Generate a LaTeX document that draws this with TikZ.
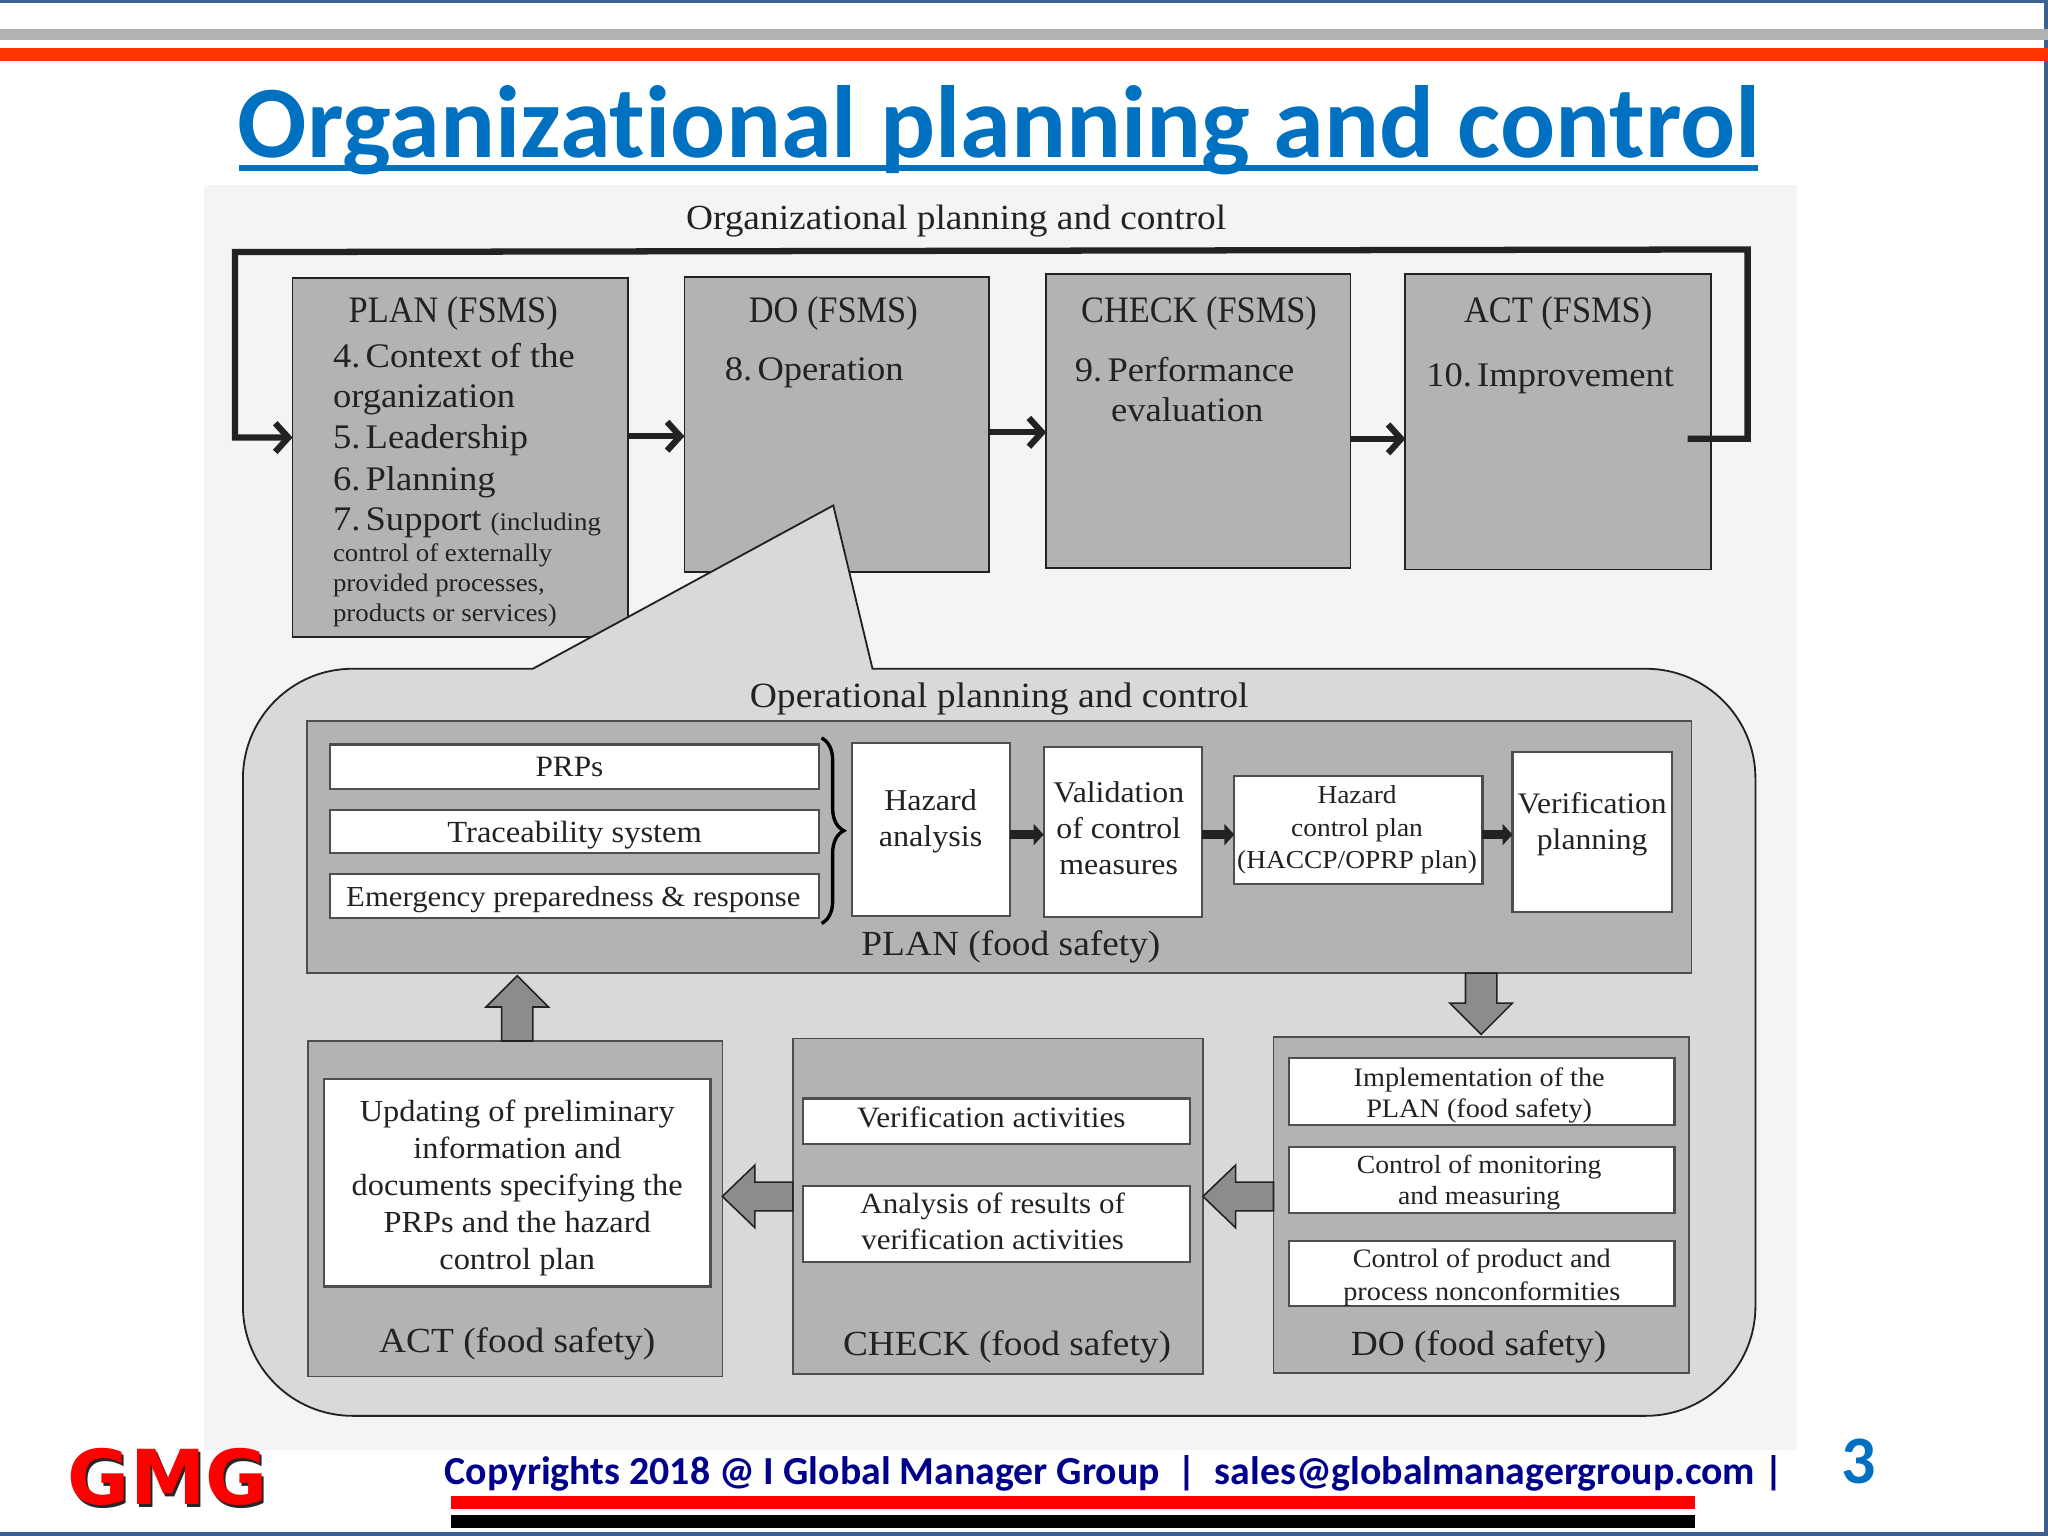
\documentclass[tikz,border=0pt]{standalone}
\usepackage{fontspec}
\setmainfont{Liberation Serif}[FakeStretch=1.06]
\newfontfamily\headf{Liberation Serif}[FakeStretch=0.92]
\newfontfamily\calib{Carlito}[BoldFont=Carlito Bold,Ligatures=NoCommon]
\newfontfamily\gmgf{DejaVu Sans}
\usetikzlibrary{arrows.meta,calc,decorations.pathreplacing}
\definecolor{bgc}{HTML}{F4F4F7}
\definecolor{greybox}{HTML}{B3B3B5}
\definecolor{callout}{HTML}{D9D9DB}
\definecolor{arrowg}{HTML}{8C8C8E}
\definecolor{ink}{HTML}{222222}
\definecolor{titleblue}{HTML}{0070C0}
\definecolor{navyf}{HTML}{00008B}
\definecolor{edgeb}{HTML}{3C6090}
\definecolor{topred}{HTML}{FF3300}
\newcommand\fs[1]{\fontsize{#1}{#1}\selectfont}
\newcommand\fl[2]{\fontsize{#1}{#2}\selectfont}
\newcommand\bx[8]{\node[#6,inner sep=0pt,outer sep=0pt,minimum width={(#4-#2)*0.5pt},minimum height={(#5-#3)*0.5pt}] (#1) at ({(#2+#4)/2},{(#3+#5)/2}) {};
 \node[#6,draw=none,fill=none,inner sep=0pt,outer sep=0pt,align=center] (#1t) at ($(#1.center)+(#8)$) {#7};}
\newcommand\vblock[3]{\draw[blkarrow] let \p1=(#1),\p2=(#2) in
 (\x1-6pt,\y1) -- (\x1-6pt,\y2-#3) -- (\x1-12pt,\y2-#3) -- (\x1,\y2) -- (\x1+12pt,\y2-#3) -- (\x1+6pt,\y2-#3) -- (\x1+6pt,\y1) -- cycle;}
\newcommand\hblock[3]{\draw[blkarrow] let \p1=(#1),\p2=(#2) in
 (\x1,\y1-5.5pt) -- (\x2+#3,\y1-5.5pt) -- (\x2+#3,\y1-12pt) -- (\x2,\y1) -- (\x2+#3,\y1+12pt) -- (\x2+#3,\y1+5.5pt) -- (\x1,\y1+5.5pt) -- cycle;}
\tikzset{
 x=0.5pt,y=-0.5pt,
 graybox/.style={draw=ink,line width=0.7pt,fill=greybox},
 bandbox/.style={draw=ink!80,line width=0.6pt,fill=greybox},
 whitebox/.style={draw=ink!80,line width=0.8pt,fill=white,text=ink},
 bigarrow/.style={draw=ink,line width=2.4pt,-{Straight Barb[length=5pt,width=11pt,line width=2.4pt]}},
 smallarrow/.style={draw=ink,line width=3.6pt,-{Triangle[length=3.8pt,width=8pt]}},
 blkarrow/.style={draw=ink,line width=0.6pt,fill=arrowg},
 lbl/.style={inner sep=0pt,outer sep=0pt,text=ink},
 head/.style={lbl,font=\headf\fs{14.3}},
 item/.style={lbl,anchor=west,font=\fs{13.2}},
 small/.style={item,font=\fs{9.7}},
 foodl/.style={lbl,font=\fs{13.5}},
}
\begin{document}
\begin{tikzpicture}
\useasboundingbox (0,0) rectangle (1568,1176);
\fill[white] (0,0) rectangle (1568,1176);
% frame bars
\fill[edgeb] (0,0) rectangle (1568,2);
\fill[edgeb] (1565,0) rectangle (1568,1176);
\fill[edgeb] (0,1173) rectangle (1568,1176);
\fill[black!30] (0,22) rectangle (1568,31);
\fill[topred] (0,37) rectangle (1568,47);
% title
\node[inner sep=0pt,text=titleblue,font=\calib\bfseries\fs{39.3}] (title) at (765,100) {Organizational planning and control};
\fill[titleblue] (183,126) rectangle (1346,131);
% panel
\fill[bgc] (156,142) rectangle (1376,1110);
\node[lbl,font=\fs{13.5}] (toptitle) at (732,169) {Organizational planning and control};
% top boxes
\bx{plan}{224}{213}{481}{488}{graybox}{}{0,0}
\bx{do}{524}{212}{757}{438}{graybox}{}{0,0}
\bx{check}{801}{210}{1034}{435}{graybox}{}{0,0}
\bx{act}{1076}{210}{1310}{436}{graybox}{}{0,0}
\node[head] (planh) at (347,240) {PLAN (FSMS)};
\node[head] (doh) at (638,240) {DO (FSMS)};
\node[head] (checkh) at (918,240) {CHECK (FSMS)};
\node[head] (acth) at (1193,240) {ACT (FSMS)};
\node[item] (p4) at (255,272) {4.\kern2pt Context of the};
\node[item] (p4b) at (255,306) {organization};
\node[item] (p5) at (255,337) {5.\kern2pt Leadership};
\node[item] (p6) at (255,369) {6.\kern2pt Planning};
\node[item] (p7) at (255,400) {7.\kern2pt Support {\fs{9.7}(including}};
\node[small] (p7b) at (255,425) {control of externally};
\node[small] (p7c) at (255,448) {provided processes,};
\node[small] (p7d) at (255,471) {products or services)};
\node[item] (d8) at (555,285) {8.\kern2pt Operation};
\node[item] (c9) at (823,283) {9.\kern2pt Performance};
\node[lbl,font=\fs{13.2}] (c9b) at (909,314) {evaluation};
\node[item] (a10) at (1092,290) {10.\kern2pt Improvement};
% top connectors
\coordinate (r1) at (0,334);
\coordinate (r2) at (0,331);
\coordinate (r3) at (0,336);
\coordinate (actin) at (1292,336);
\coordinate (lp1) at (1338,336);
\coordinate (lp2) at (1338,191);
\coordinate (lp3) at (180,193);
\coordinate (lp4) at (180,335);
\draw[bigarrow] (plan.east |- r1) -- (do.west |- r1);
\draw[bigarrow] (do.east |- r2) -- (check.west |- r2);
\draw[bigarrow] (check.east |- r3) -- (act.west |- r3);
\draw[bigarrow] (actin) -- (lp1) -- (lp2) -- (lp3) -- (lp4) -- (plan.west |- lp4);
% callout
\draw[draw=ink,line width=0.7pt,fill=callout] (408,512) -- (638,387) -- (668,512) [rounded corners=42pt] -- (1344,512) -- (1344,1084) -- (186,1084) -- (186,512) [sharp corners] -- cycle;
\node[lbl,font=\fs{13.6}] (optitle) at (765,535) {Operational planning and control};
% PLAN band
\bx{band}{235}{552}{1295}{745}{bandbox}{}{0,0}
\node[foodl] (bandl) at (774,725) {PLAN (food safety)};
\bx{prps}{253}{570}{627}{604}{whitebox,font=\fs{11.3}}{PRPs}{-4,0}
\bx{trace}{253}{620}{627}{653}{whitebox,font=\fs{11.75}}{Traceability system}{0,3}
\bx{emerg}{253}{669}{627}{703}{whitebox,font=\fs{11.1}}{Emergency preparedness \& response}{-1,3}
\draw[draw=black,line width=1.3pt,decorate,decoration={brace,amplitude=8.5pt}] (629,565) -- (629,707);
\bx{hazard}{652}{569}{773}{701}{whitebox,font=\fl{11.6}{13.7}}{Hazard\\analysis}{0,-6}
\bx{valid}{799}{572}{920}{702}{whitebox,font=\fl{11.5}{13.75}}{Validation\\of control\\measures}{-3,-3}
\bx{hcp}{945}{594}{1135}{677}{whitebox,font=\fl{9.9}{12.5}}{Hazard\\control plan\\(HACCP/OPRP plan)}{-1,0}
\bx{verif}{1158}{576}{1280}{698}{whitebox,font=\fl{11.4}{14}}{Verification\\planning}{0,-6}
\coordinate (sa) at (0,639);
\draw[smallarrow] (hazard.east |- sa) -- (valid.west |- sa);
\draw[smallarrow] (valid.east |- sa) -- (hcp.west |- sa);
\draw[smallarrow] (hcp.east |- sa) -- (verif.west |- sa);
% ACT
\bx{actb}{236}{797}{553}{1054}{bandbox}{}{0,0}
\bx{actw}{248}{826}{544}{985}{whitebox,font=\fl{11.7}{14.1}}{Updating of preliminary\\information and\\documents specifying the\\PRPs and the hazard\\control plan}{0,4}
\node[foodl] (actl) at (396,1029) {ACT (food safety)};
% CHECK
\bx{checkb}{607}{795}{921}{1052}{bandbox}{}{0,0}
\bx{cw1}{615}{841}{911}{876}{whitebox,font=\fs{11.3}}{Verification activities}{-4,-3}
\bx{cw2}{615}{908}{911}{966}{whitebox,font=\fl{11.2}{13.5}}{Analysis of results of\\verification activities}{-3,-2}
\node[foodl] (checkl) at (771,1031) {CHECK (food safety)};
% DO
\bx{dob}{975}{794}{1293}{1051}{bandbox}{}{0,0}
\bx{dw1}{987}{810}{1282}{861}{whitebox,font=\fl{10.2}{11.8}}{Implementation of the\\PLAN (food safety)}{-2,3}
\bx{dw2}{987}{878}{1282}{929}{whitebox,font=\fl{10}{12}}{Control of monitoring\\and measuring}{-2,2}
\bx{dw3}{987}{950}{1282}{1000}{whitebox,font=\fl{10.2}{12.3}}{Control of product and\\process nonconformities}{0,3}
\node[foodl] (dol) at (1132,1031) {DO (food safety)};
% block arrows
\coordinate (u1) at (396,797);
\coordinate (u2) at (396,747);
\coordinate (d1) at (1134,745);
\coordinate (d2) at (1134,792);
\coordinate (l1) at (607,916);
\coordinate (l3) at (975,916);
\vblock{u1}{u2}{12pt}
\vblock{d1}{d2}{-12pt}
\hblock{checkb.west |- l1}{actb.east |- l1}{12.5pt}
\hblock{dob.west |- l3}{checkb.east |- l3}{12.5pt}
% footer
\node[inner sep=0pt,text=black!85,font=\gmgf\bfseries\fs{29}] (gmgs) at (130,1133) {GMG};
\node[inner sep=0pt,text=red,font=\gmgf\bfseries\fs{29}] (gmg) at (128.5,1131) {GMG};
\node[inner sep=0pt,text=navyf,font=\calib\bfseries\fs{15.23},anchor=west] (foot) at (340,1128) {Copyrights 2018 @ I Global Manager Group~~|~~sales@globalmanagergroup.com |};
\fill[red] (345,1145) rectangle (1298,1155);
\fill[black] (345,1160) rectangle (1298,1170);
\node[inner sep=0pt,text=titleblue,font=\calib\bfseries\fs{26}] (pg) at (1423,1119) {3};
\end{tikzpicture}
\end{document}
